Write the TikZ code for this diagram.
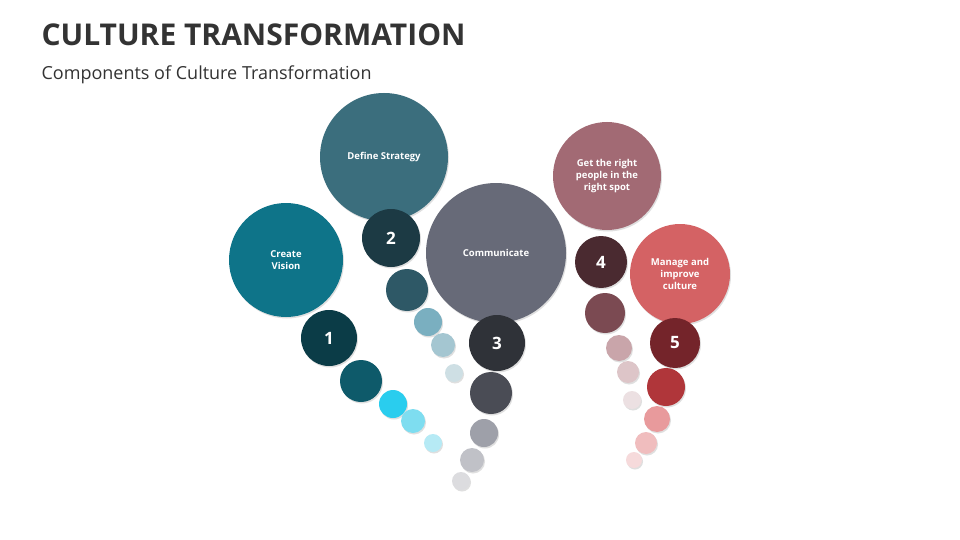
\documentclass[tikz,border=0pt]{standalone}
\usepackage{fontspec}
\setmainfont{Open Sans}
\usetikzlibrary{shadows}
\begin{document}
\begin{tikzpicture}[x=1pt,y=-1pt,
  bub/.style={circle,inner sep=0pt,text=white,align=center,font=\bfseries\fontsize{9.5}{12}\selectfont,drop shadow={opacity=0.25,shadow xshift=1pt,shadow yshift=-1.5pt}},
  num/.style={bub,font=\bfseries\fontsize{17}{20}\selectfont}]
\useasboundingbox (0,0) rectangle (960,540);
\fill[white] (0,0) rectangle (960,540);
\node[anchor=base west,font=\bfseries\fontsize{30}{34}\selectfont,text=black!80] (t) at (38,46) {CULTURE TRANSFORMATION};
\node[anchor=base west,font=\fontsize{18}{22}\selectfont,text=black!80] (s) at (38,80) {Components of Culture Transformation};
% big circles
\node[bub,fill={rgb,255:red,14;green,116;blue,137},minimum size=114pt] (b1) at (286,260) {Create\\Vision};
\node[bub,fill={rgb,255:red,59;green,110;blue,125},minimum size=128pt] (b2) at (384,157) {Define Strategy};
\node[bub,fill={rgb,255:red,103;green,106;blue,120},minimum size=140pt] (b3) at (496,253) {Communicate};
\node[bub,fill={rgb,255:red,162;green,106;blue,116},minimum size=108pt] (b4) at (607,176) {Get the right\\people in the\\right spot};
\node[bub,fill={rgb,255:red,212;green,98;blue,100},minimum size=100pt] (b5) at (680,274) {Manage and\\improve\\culture};
% group 1
\node[num,fill={rgb,255:red,11;green,60;blue,71},minimum size=56pt] (n1) at (329,338) {1};
\node[bub,fill={rgb,255:red,14;green,90;blue,106},minimum size=42pt] (a1) at (361,381) {};
\node[bub,fill={rgb,255:red,42;green,205;blue,238},minimum size=28pt] (c1) at (393,404) {};
\node[bub,fill={rgb,255:red,126;green,221;blue,240},minimum size=24pt] (d1) at (413,421) {};
\node[bub,fill={rgb,255:red,182;green,234;blue,245},minimum size=18pt] (e1) at (433,443) {};
% group 2
\node[num,fill={rgb,255:red,28;green,58;blue,68},minimum size=58pt] (n2) at (391,238) {2};
\node[bub,fill={rgb,255:red,46;green,88;blue,102},minimum size=42pt] (a2) at (407,290) {};
\node[bub,fill={rgb,255:red,122;green,175;blue,192},minimum size=28pt] (c2) at (428,322) {};
\node[bub,fill={rgb,255:red,164;green,198;blue,209},minimum size=24pt] (d2) at (443,345) {};
\node[bub,fill={rgb,255:red,206;green,223;blue,228},minimum size=18pt] (e2) at (454,373) {};
% group 3
\node[num,fill={rgb,255:red,47;green,50;blue,56},minimum size=56pt] (n3) at (497,343) {3};
\node[bub,fill={rgb,255:red,74;green,76;blue,85},minimum size=42pt] (a3) at (491,393) {};
\node[bub,fill={rgb,255:red,158;green,160;blue,169},minimum size=28pt] (c3) at (484,433) {};
\node[bub,fill={rgb,255:red,192;green,193;blue,199},minimum size=24pt] (d3) at (472,460) {};
\node[bub,fill={rgb,255:red,220;green,220;blue,223},minimum size=18pt] (e3) at (461,481) {};
% group 4
\node[num,fill={rgb,255:red,74;green,42;blue,48},minimum size=52pt] (n4) at (601,262) {4};
\node[bub,fill={rgb,255:red,123;green,74;blue,82},minimum size=40pt] (a4) at (605,313) {};
\node[bub,fill={rgb,255:red,201;green,165;blue,170},minimum size=26pt] (c4) at (619,348) {};
\node[bub,fill={rgb,255:red,221;green,197;blue,200},minimum size=22pt] (d4) at (628,372) {};
\node[bub,fill={rgb,255:red,236;green,224;blue,226},minimum size=18pt] (e4) at (632,400) {};
% group 5
\node[num,fill={rgb,255:red,116;green,36;blue,42},minimum size=50pt] (n5) at (675,343) {5};
\node[bub,fill={rgb,255:red,176;green,54;blue,58},minimum size=38pt] (a5) at (666,387) {};
\node[bub,fill={rgb,255:red,232;green,154;blue,156},minimum size=26pt] (c5) at (657,419) {};
\node[bub,fill={rgb,255:red,240;green,189;blue,190},minimum size=22pt] (d5) at (646,443) {};
\node[bub,fill={rgb,255:red,246;green,218;blue,219},minimum size=16pt] (e5) at (634,460) {};
\end{tikzpicture}
\end{document}
